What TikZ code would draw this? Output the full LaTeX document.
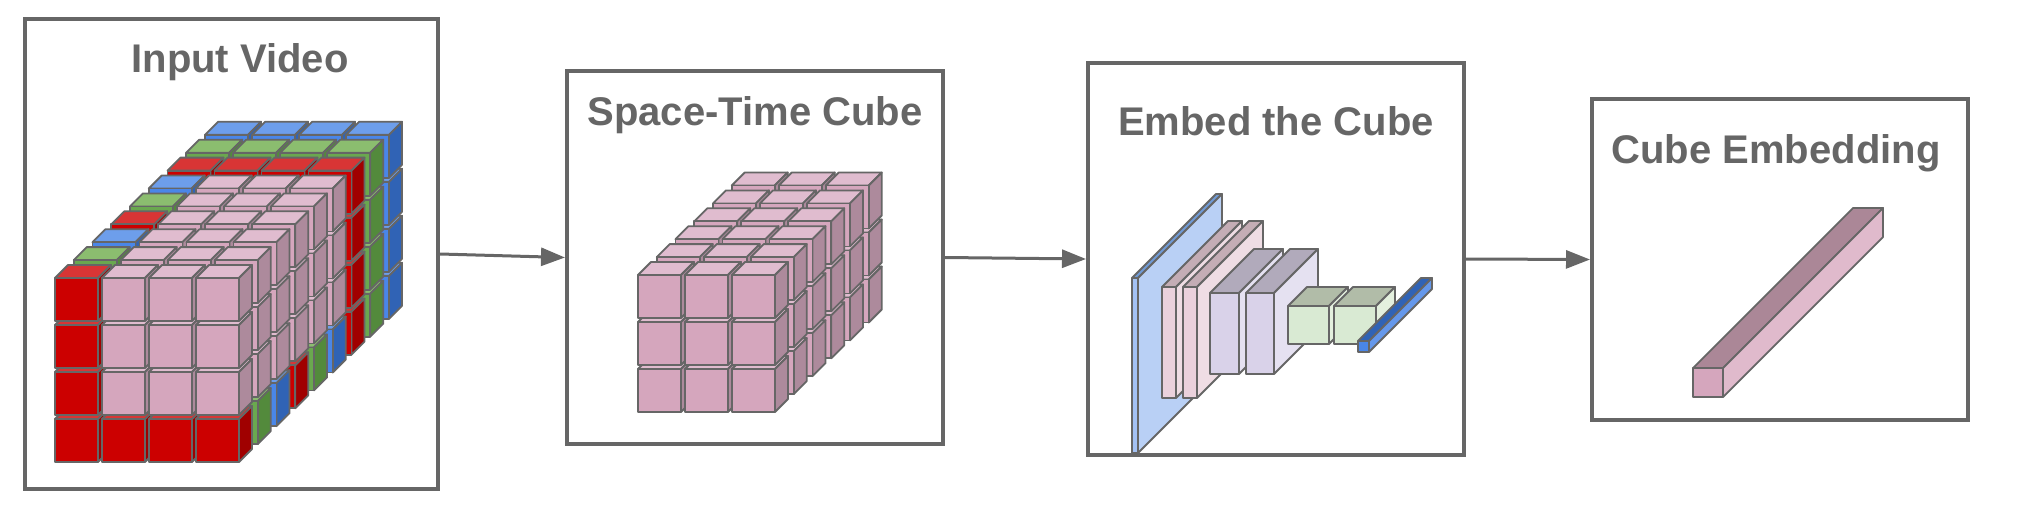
\documentclass[tikz,border=0pt]{standalone}
\usepackage{fontspec}
\setmainfont{Liberation Sans}
\usetikzlibrary{arrows.meta}
\definecolor{edge}{HTML}{666666}
\definecolor{pkF}{HTML}{D5A6BD}\definecolor{pkT}{HTML}{E0BCCF}\definecolor{pkS}{HTML}{AD8A9C}
\definecolor{c0F}{HTML}{CC0000}\definecolor{c0T}{HTML}{D83535}\definecolor{c0S}{HTML}{A00000}
\definecolor{c1F}{HTML}{6AA84F}\definecolor{c1T}{HTML}{8BBD6F}\definecolor{c1S}{HTML}{538A3C}
\definecolor{c2F}{HTML}{4A86E8}\definecolor{c2T}{HTML}{6D9EEB}\definecolor{c2S}{HTML}{3063B5}
\definecolor{blF}{HTML}{A4C2F4}\definecolor{blT}{HTML}{6F9AD6}\definecolor{blS}{HTML}{B9D0F5}
\definecolor{rsF}{HTML}{EAD1DC}\definecolor{rsT}{HTML}{C4ADB5}\definecolor{rsS}{HTML}{EFDDE4}
\definecolor{lvF}{HTML}{D9D2E9}\definecolor{lvT}{HTML}{B1AABB}\definecolor{lvS}{HTML}{E5E1F1}
\definecolor{gnF}{HTML}{D9EAD3}\definecolor{gnT}{HTML}{B1BCA8}\definecolor{gnS}{HTML}{E4F0DE}
\definecolor{embT}{HTML}{AB8797}\definecolor{embS}{HTML}{E0BACC}
\newcommand\mycube[8]{%
 \filldraw[fill=#6] (#1,#2) -- ++(#5,-#5) -- ++(#3,0) -- ++(-#5,#5) -- cycle;
 \filldraw[fill=#8] (#1+#3,#2) -- ++(#5,-#5) -- ++(0,#4) -- ++(-#5,#5) -- cycle;
 \filldraw[fill=#7] (#1,#2) rectangle ++(#3,#4);}
\begin{document}
\begin{tikzpicture}[x=0.5pt,y=-0.5pt,
 box/.style={draw=edge,line width=2pt,inner sep=0pt,fill=white},
 ttl/.style={text=edge,font=\fontsize{20}{24}\selectfont\bfseries},
 arr/.style={draw=edge,line width=1.5pt,-{Triangle[length=12pt,width=9pt]}},
 cubes/.style={draw=edge,line width=0.9pt,line join=round}]
\useasboundingbox (0,0) rectangle (2018,508);
\node[box,minimum width=206.5pt,minimum height=235pt] (b1) at (231.5,254) {};
\node[box,minimum width=188pt,minimum height=186.5pt] (b2) at (755,257.5) {};
\node[box,minimum width=188pt,minimum height=196pt] (b3) at (1276,259) {};
\node[box,minimum width=188pt,minimum height=160.5pt] (b4) at (1780,259.5) {};
\node[ttl] (t1) at (240,62) {Input Video};
\node[ttl] (t2) at (755,115) {Space-Time Cube};
\node[ttl] (t3) at (1276,121) {Embed the Cube};
\node[ttl] (t4) at (1776,153) {Cube Embedding};
\draw[arr] (b1.east) -- (b2.west);
\draw[arr] (b2.east) -- (b3.west);
\draw[arr] (b3.east) -- (b4.west);
\begin{scope}[cubes]
\foreach \L in {8,...,0}{\foreach \r in {3,2,1,0}{\foreach \c in {0,...,3}{%
 \pgfmathtruncatemacro\m{mod(\L,3)}%
 \pgfmathtruncatemacro\pk{and(and(\L<6,\c>0),\r<3)}%
 \ifnum\pk=1 \def\F{pkF}\def\T{pkT}\def\S{pkS}\else\edef\F{c\m F}\edef\T{c\m T}\edef\S{c\m S}\fi
 \pgfmathsetmacro\xx{55+47*\c+18.75*\L}\pgfmathsetmacro\yy{278+47*\r-17.9*\L}%
 \mycube{\xx}{\yy}{43}{43}{13}{\T}{\F}{\S}}}}
\foreach \L in {5,...,0}{\foreach \r in {2,1,0}{\foreach \c in {0,...,2}{%
 \pgfmathsetmacro\xx{638+47*\c+18.75*\L}\pgfmathsetmacro\yy{275+47*\r-17.9*\L}%
 \mycube{\xx}{\yy}{43}{43}{13}{pkT}{pkF}{pkS}}}}
\mycube{1132}{278}{6}{175}{84}{blT}{blF}{blS}
\mycube{1162}{287}{14}{111}{66}{rsT}{rsF}{rsS}
\mycube{1183}{287}{14}{111}{66}{rsT}{rsF}{rsS}
\mycube{1210}{293}{29}{81}{44}{lvT}{lvF}{lvS}
\mycube{1246}{293}{28}{81}{44}{lvT}{lvF}{lvS}
\mycube{1288}{306}{41}{38}{19}{gnT}{gnF}{gnS}
\mycube{1334}{306}{42}{38}{19}{gnT}{gnF}{gnS}
\mycube{1358}{341}{11}{11}{63}{c2S}{c2F}{c2F!85!white}
\mycube{1693}{368}{30}{29}{160}{embT}{pkF}{embS}
\end{scope}
\end{tikzpicture}
\end{document}
